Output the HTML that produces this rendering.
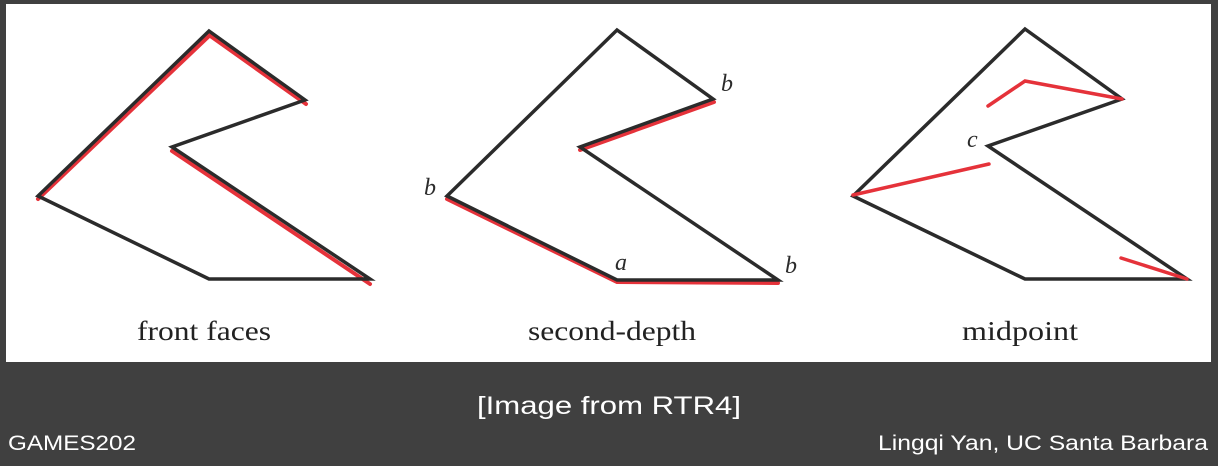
<!DOCTYPE html>
<html><head><style>
html,body{margin:0;padding:0;}
body{width:1218px;height:466px;background:#404040;position:relative;overflow:hidden;font-family:"Liberation Sans",sans-serif;}
#p{position:absolute;left:6px;top:4px;width:1205px;height:358px;background:#fff;}
.t{position:absolute;color:#fff;white-space:nowrap;}
</style></head><body>
<div id="p"></div>
<svg style="position:absolute;left:0;top:0" width="1218" height="466">
<g fill="none" stroke-linecap="round" stroke-linejoin="miter">
<!-- left -->
<polyline points="209,35 306,104" stroke="#e5323a" stroke-width="4"/>
<polyline points="38,199 209,36" stroke="#e5323a" stroke-width="4"/>
<polyline points="172,151 370,284" stroke="#e5323a" stroke-width="4"/>
<polygon points="209,31 305,100 172,147 370,279 209,279 38,196" stroke="#2b2b2b" stroke-width="3.5"/>
<!-- middle -->
<polyline points="580,150 714,102" stroke="#e5323a" stroke-width="4"/>
<polyline points="447,199 617,282 778,283" stroke="#e5323a" stroke-width="4"/>
<polygon points="617,30 713,99 580,147 778,280 617,280 447,196" stroke="#2b2b2b" stroke-width="3.5"/>
<!-- right -->
<polygon points="1025,29 1122,99 988,146 1187,279 1025,279 853,196" stroke="#2b2b2b" stroke-width="3.5"/>
<polyline points="988,106 1025,81 1122,99" stroke="#e5323a" stroke-width="3.5"/>
<polyline points="853,195 989,164" stroke="#e5323a" stroke-width="3.5"/>
<polyline points="1121,258 1187,279" stroke="#e5323a" stroke-width="3.5"/>
</g>
<g font-family="Liberation Serif,serif" font-style="italic" font-size="24" fill="#2b2b2b">
<text x="721" y="91">b</text>
<text x="424" y="195">b</text>
<text x="615" y="270">a</text>
<text x="785" y="273">b</text>
<text x="967" y="147">c</text>
</g>
<g font-family="Liberation Serif,serif" font-size="27" fill="#222" text-anchor="middle">
<text x="204" y="340" textLength="134" lengthAdjust="spacingAndGlyphs">front faces</text>
<text x="612" y="340" textLength="168" lengthAdjust="spacingAndGlyphs">second-depth</text>
<text x="1020" y="340" textLength="116" lengthAdjust="spacingAndGlyphs">midpoint</text>
</g>
<g font-family="Liberation Sans,sans-serif" fill="#fff">
<text x="609" y="414" font-size="25" text-anchor="middle" textLength="264" lengthAdjust="spacingAndGlyphs">[Image from RTR4]</text>
<text x="8" y="450" font-size="21" textLength="128" lengthAdjust="spacingAndGlyphs">GAMES202</text>
<text x="1208" y="450" font-size="21" text-anchor="end" textLength="330" lengthAdjust="spacingAndGlyphs">Lingqi Yan, UC Santa Barbara</text>
</g>
</svg>
</body></html>
